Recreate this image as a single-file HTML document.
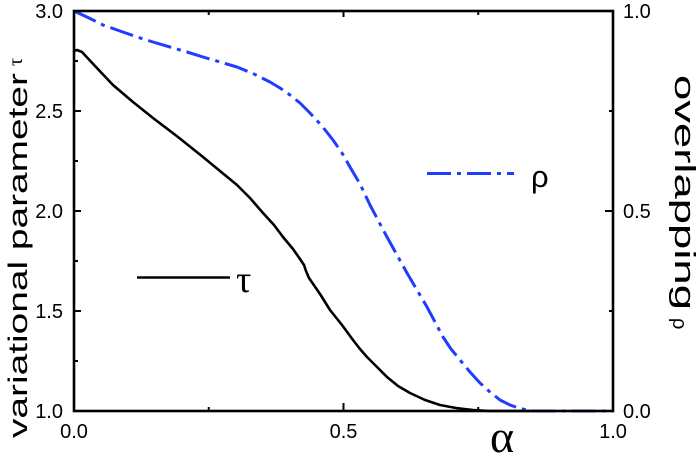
<!DOCTYPE html>
<html>
<head>
<meta charset="utf-8">
<style>
html,body{margin:0;padding:0;background:#fff;}
svg{display:block;}
text{font-family:"Liberation Sans", Arial, sans-serif;fill:#000;}
.serif{font-family:"Liberation Serif", "DejaVu Serif", serif;}
</style>
</head>
<body>
<svg width="700" height="455" viewBox="0 0 700 455" xmlns="http://www.w3.org/2000/svg">
  <!-- curves -->
  <polyline fill="none" stroke="#000" stroke-width="2.6" stroke-linejoin="round" stroke-linecap="round"
    points="74,51 77,50 82,52 95,66 113,85 133,102 153,118 178,137 203,157 220,171 237,185 250,198 263,213 274,225 283,237 293,249 300,259 304,265 306,271 309,278 320,294 330,310 342,325 353,340 360,349 367,357 377,367 387,377 398,386 410,393 425,400 440,405 456,408 473,410 490,411 530,411"/>
  <polyline fill="none" stroke="#1f3dff" stroke-width="3" stroke-dasharray="24,6,4,6" stroke-linejoin="round"
    points="74,11 89,18 103,25 120,31 137,37 153,42 170,47 187,52 203,57 220,62 237,67 254,74 270,82 280,88 290,95 300,103 310,113 322,126 333,140 342,153 350,167 360,184 370,205 379,222 387,237 397,255 407,273 417,290 427,307 435,322 443,337 451,349 460,360 470,372 480,383 490,392 500,400 510,405 520,408.5 533,411 613,411"/>

  <!-- frame -->
  <rect x="74" y="11" width="539" height="400" fill="none" stroke="#000" stroke-width="2.6"/>

  <g stroke="#000" stroke-width="2">
    <line x1="74" y1="11" x2="81" y2="11"/>
    <line x1="74" y1="61" x2="78" y2="61"/>
    <line x1="74" y1="111" x2="81" y2="111"/>
    <line x1="74" y1="161" x2="78" y2="161"/>
    <line x1="74" y1="211" x2="81" y2="211"/>
    <line x1="74" y1="261" x2="78" y2="261"/>
    <line x1="74" y1="311" x2="81" y2="311"/>
    <line x1="74" y1="361" x2="78" y2="361"/>
    <line x1="613" y1="111" x2="609" y2="111"/>
    <line x1="613" y1="211" x2="605" y2="211"/>
    <line x1="613" y1="311" x2="609" y2="311"/>
    <line x1="208.75" y1="411" x2="208.75" y2="407"/>
    <line x1="343.5" y1="411" x2="343.5" y2="403"/>
    <line x1="478.25" y1="411" x2="478.25" y2="407"/>
    <line x1="208.75" y1="11" x2="208.75" y2="15"/>
    <line x1="343.5" y1="11" x2="343.5" y2="17"/>
    <line x1="478.25" y1="11" x2="478.25" y2="15"/>
  </g>

  <g font-size="20" text-anchor="end">
    <text x="63" y="18">3.0</text>
    <text x="63" y="118">2.5</text>
    <text x="63" y="218">2.0</text>
    <text x="63" y="318">1.5</text>
    <text x="63" y="418">1.0</text>
  </g>
  <g font-size="20" text-anchor="start">
    <text x="623" y="18">1.0</text>
    <text x="623" y="218">0.5</text>
    <text x="623" y="418">0.0</text>
  </g>
  <g font-size="20" text-anchor="middle">
    <text x="74" y="438">0.0</text>
    <text x="343.5" y="438">0.5</text>
    <text x="613" y="438">1.0</text>
  </g>

  <text transform="translate(27,438) rotate(-90)" font-size="27" textLength="365" lengthAdjust="spacingAndGlyphs">variational parameter</text>
  <text class="serif" transform="translate(22,66) rotate(-90)" font-size="20">τ</text>

  <text transform="translate(675,75) rotate(90)" font-size="29" textLength="235" lengthAdjust="spacingAndGlyphs">overlapping</text>
  <text transform="translate(673,318) rotate(90)" font-size="20">ρ</text>

  <text class="serif" x="502" y="452" font-size="46" text-anchor="middle">α</text>

  <line x1="137" y1="277.5" x2="230" y2="277.5" stroke="#000" stroke-width="2.6"/>
  <text class="serif" x="236" y="292" font-size="38">τ</text>

  <line x1="427" y1="173.5" x2="514" y2="173.5" stroke="#1f3dff" stroke-width="3" stroke-dasharray="24,6,4,6"/>
  <text x="531" y="187" font-size="31">ρ</text>
</svg>
</body>
</html>
